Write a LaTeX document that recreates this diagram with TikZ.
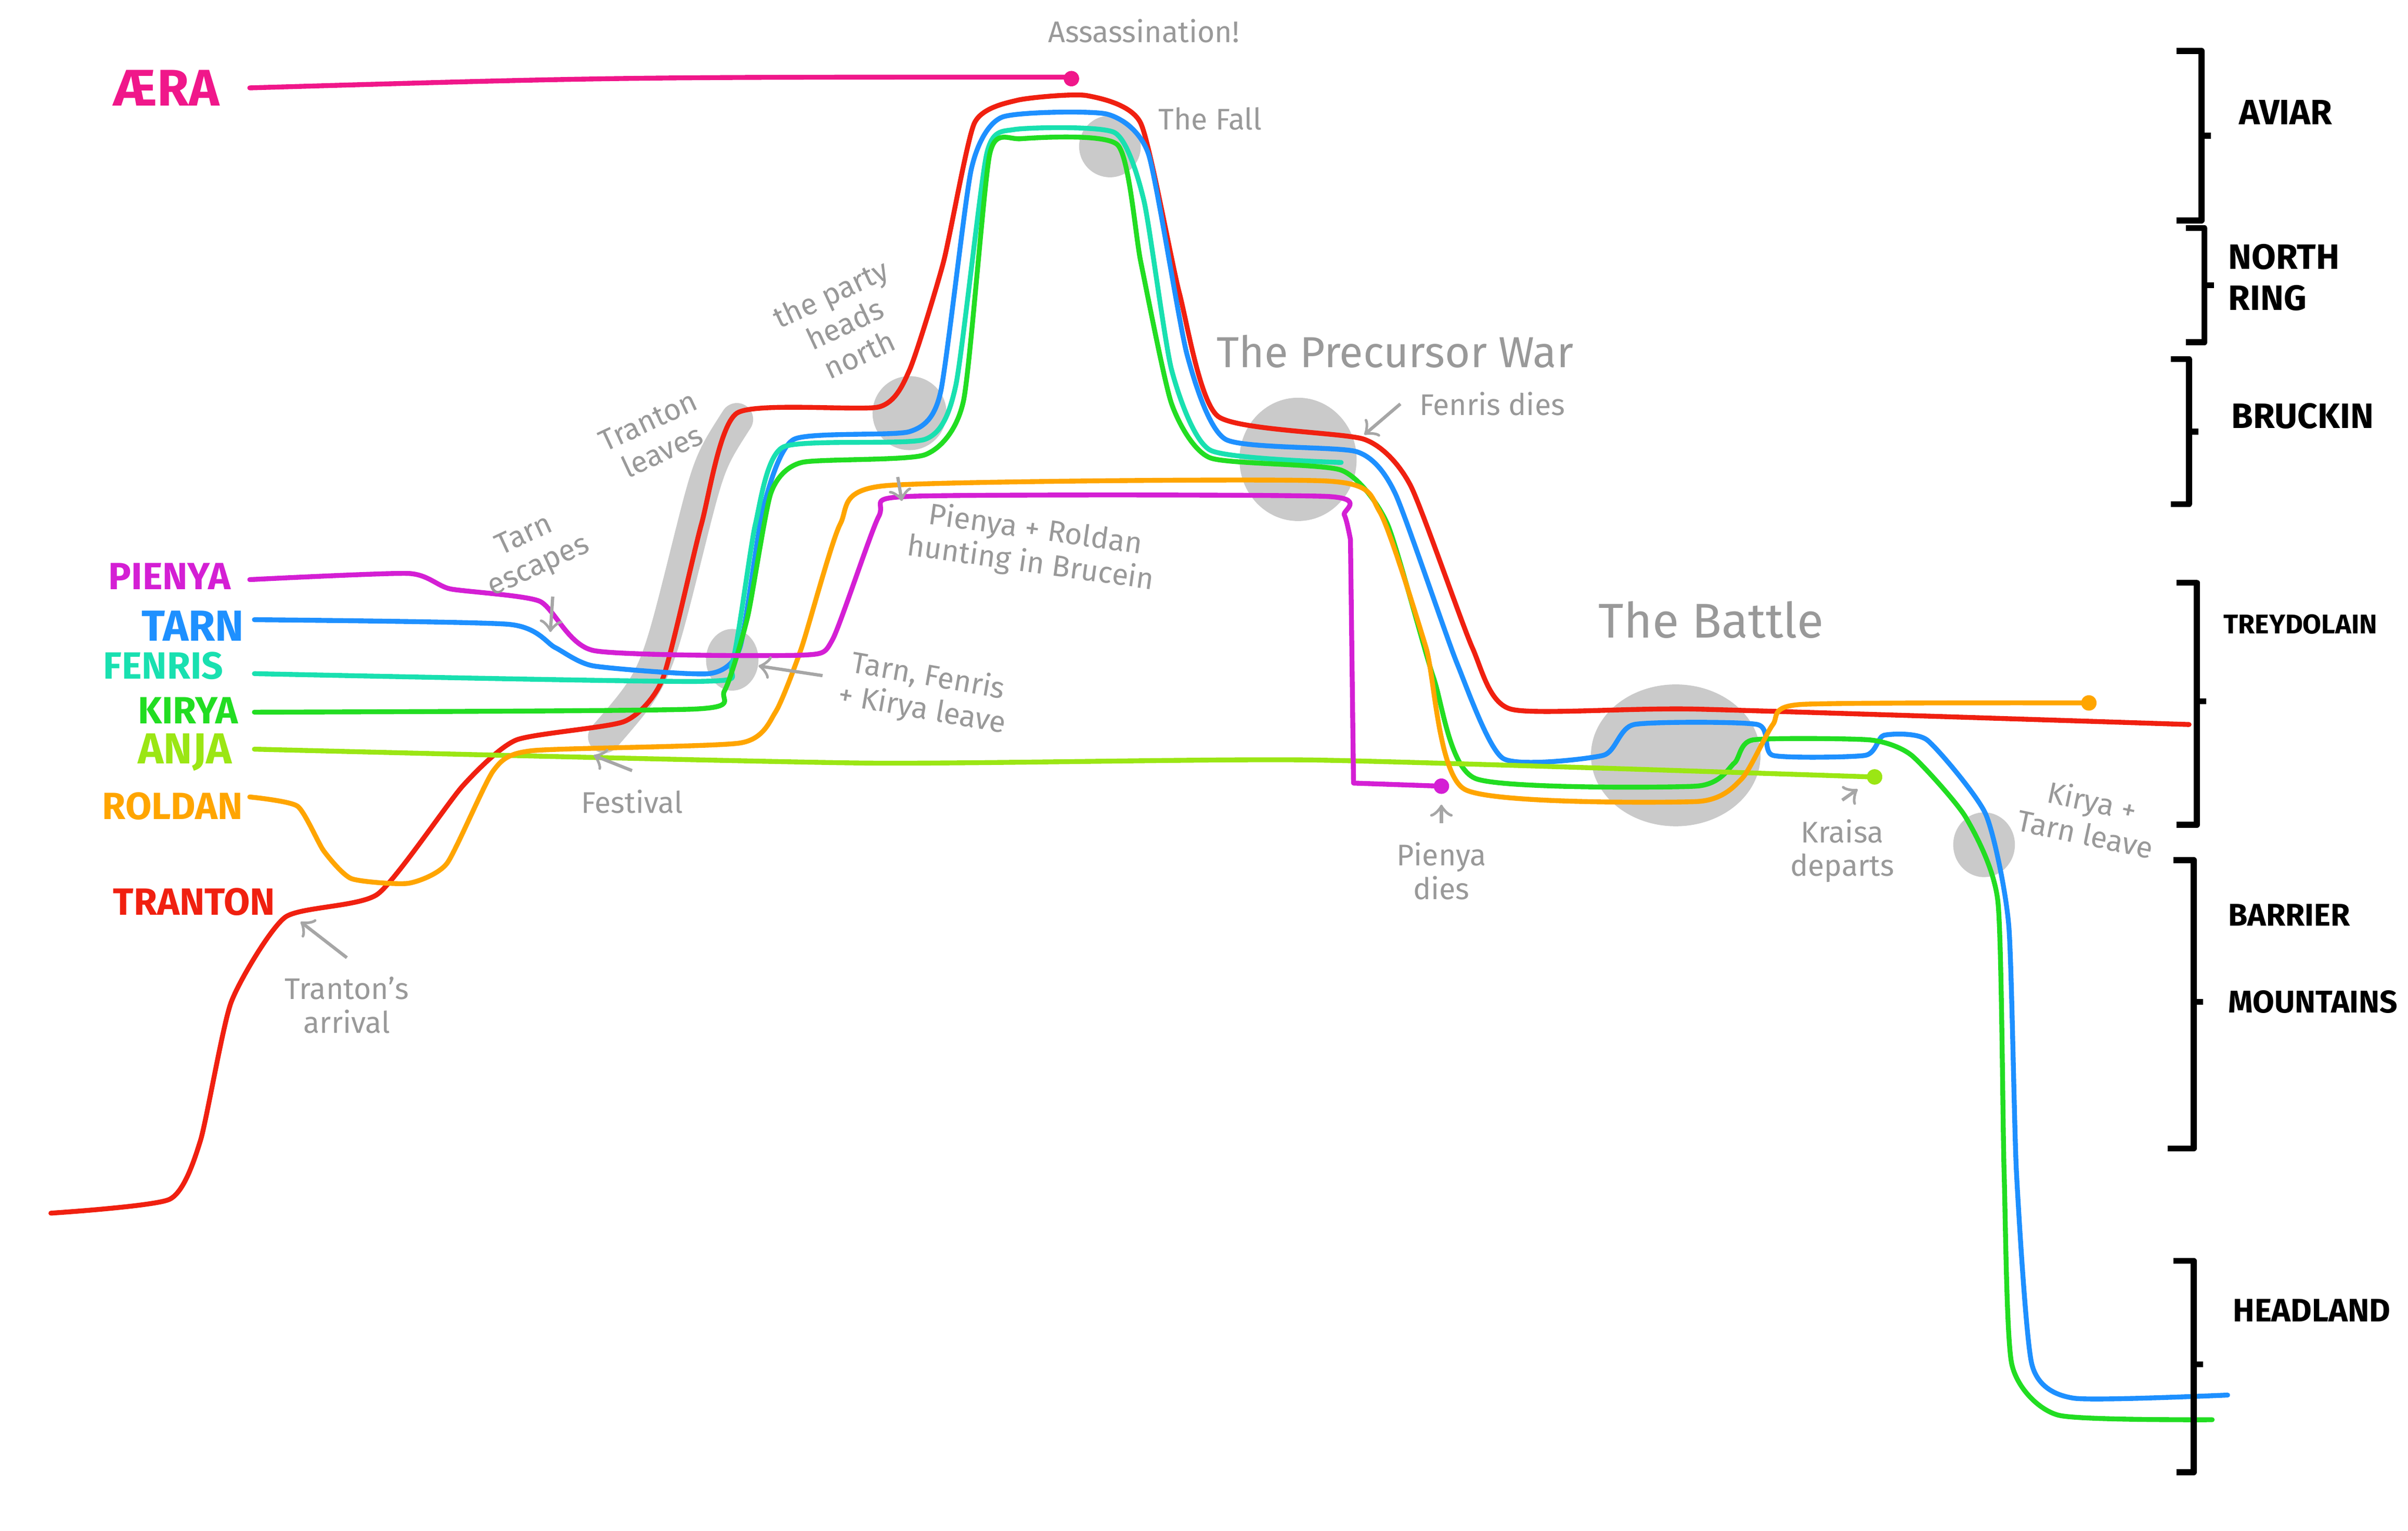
\documentclass[tikz,border=0pt]{standalone}
\usepackage{fontspec}
\setmainfont{Fira Sans}
\definecolor{caera}{HTML}{F0178A}
\definecolor{cpie}{HTML}{D41FD4}
\definecolor{ctarn}{HTML}{1E90FF}
\definecolor{cfen}{HTML}{19E0B0}
\definecolor{ckir}{HTML}{22DD22}
\definecolor{canja}{HTML}{9BE614}
\definecolor{crol}{HTML}{FFA500}
\definecolor{ctran}{HTML}{F02010}
\definecolor{blob}{HTML}{B8B8B8}
\begin{document}
\begin{tikzpicture}[x=0.01cm,y=-0.01cm,
  story/.style={line width=0.9pt,line cap=round,line join=round},
  who/.style={font=\bfseries\fontsize{7}{8}\selectfont,anchor=center},
  note/.style={text=gray!80,font=\fontsize{5.5}{6.2}\selectfont,align=center},
  place/.style={font=\bfseries\fontsize{6.5}{7.5}\selectfont,anchor=west,align=left},
  brk/.style={line width=1.1pt,line join=round},
  gblob/.style={fill=blob,opacity=0.75,draw=none},
  dotm/.style={circle,inner sep=0pt,minimum size=0.1cm}]
\useasboundingbox (0,0) rectangle (1562,993);
% grey blobs
\fill[gblob] (720,95) ellipse (20 and 20);
\fill[gblob] (590,268) ellipse (24 and 24);
\fill[gblob] (842,298) ellipse (38 and 40);
\fill[gblob] (1087,490) ellipse (55 and 46);
\fill[gblob] (1287,548) ellipse (20 and 21);
\fill[gblob] (475,428) ellipse (17 and 20);
\draw[blob,opacity=0.75,line width=6pt,line cap=round] (392,478) .. controls (425,440) .. (445,360) .. controls (460,300) .. (478,272);
% storylines
\draw[story,ctran] plot[smooth,tension=0.35] coordinates {(33,787)(110,778)(130,740)(150,650)(185,595)(245,580)(300,510)(335,480)(405,468)(430,440)(455,340)(478,268)(570,264)(590,240)(612,170)(632,80)(660,65)(705,62)(740,80)(765,190)(790,270)(885,285)(915,315)(955,420)(980,460)(1100,460)(1420,470)};
\draw[story,ctarn] plot[smooth,tension=0.35] coordinates {(165,402)(330,405)(360,420)(385,432)(460,437)(480,420)(495,330)(515,285)(590,280)(610,255)(630,110)(650,76)(718,74)(745,100)(770,230)(795,285)(880,293)(905,320)(945,430)(975,492)(1040,490)(1060,470)(1140,470)(1150,490)(1210,490)(1222,477)(1250,480)(1288,528)(1303,600)(1308,760)(1318,885)(1345,907)(1445,905)};
\draw[story,cfen] plot[smooth,tension=0.35] coordinates {(165,437)(455,442)(475,430)(490,340)(508,290)(600,285)(620,250)(640,100)(658,84)(723,86)(742,130)(760,240)(785,292)(870,300)};
\draw[story,ckir] plot[smooth,tension=0.35] coordinates {(165,462)(450,460)(470,448)(485,400)(500,320)(520,300)(600,295)(625,260)(642,100)(662,90)(725,94)(740,170)(760,262)(785,297)(870,305)(900,340)(930,440)(957,505)(1100,510)(1125,495)(1137,480)(1213,480)(1240,490)(1275,530)(1296,585)(1300,760)(1305,885)(1335,918)(1435,921)};
\draw[story,canja] plot[smooth,tension=0.35] coordinates {(165,486)(560,495)(850,493)(1214,504)};
\draw[story,crol] plot[smooth,tension=0.35] coordinates {(162,517)(193,523)(210,552)(228,570)(265,573)(290,560)(320,500)(345,487)(480,482)(503,462)(520,420)(545,340)(575,315)(860,312)(895,332)(925,420)(950,512)(1100,520)(1130,505)(1150,470)(1168,457)(1355,456)};
\draw[story,cpie] plot[smooth,tension=0.35] coordinates {(162,376)(265,372)(292,382)(350,390)(385,422)(520,425)(540,415)(570,335)(590,322)(860,322)(872,334)(876,350)};
\draw[story,cpie] (876,350) -- (878,508) -- (935,510);
\draw[story,caera] (162,57) .. controls (400,50) .. (695,50);
\node[dotm,fill=caera] (daera) at (695,51) {};
\node[dotm,fill=cpie] (dpie) at (935,510) {};
\node[dotm,fill=canja] (danja) at (1216,504) {};
\node[dotm,fill=crol] (drol) at (1355,456) {};
% character labels
\node[who,text=caera,font=\bfseries\fontsize{9.5}{10}\selectfont] (laera) at (108,57) {ÆRA};
\node[who,text=cpie] (lpie) at (110,374) {PIENYA};
\node[who,text=ctarn,font=\bfseries\fontsize{8}{9}\selectfont] (ltarn) at (125,406) {TARN};
\node[who,text=cfen] (lfen) at (106,432) {FENRIS};
\node[who,text=ckir] (lkir) at (122,461) {KIRYA};
\node[who,text=canja,font=\bfseries\fontsize{8}{9}\selectfont] (lanja) at (120,488) {ANJA};
\node[who,text=crol] (lrol) at (112,523) {ROLDAN};
\node[who,text=ctran] (ltran) at (126,585) {TRANTON};
% annotations
\node[note] (nass) at (742,20) {Assassination!};
\node[note] (nfall) at (785,77) {The Fall};
\node[note,rotate=25] (nparty) at (548,210) {the party\\heads\\north};
\node[note,rotate=25] (ntl) at (425,283) {Tranton\\leaves};
\node[note,font=\fontsize{8}{9}\selectfont] (nwar) at (905,228) {The Precursor War};
\node[note] (nfen) at (968,262) {Fenris dies};
\node[note,rotate=25] (nesc) at (345,358) {Tarn\\escapes};
\node[note,rotate=-10] (ntfk) at (600,450) {Tarn, Fenris\\+ Kirya leave};
\node[note,rotate=-8] (nhunt) at (670,355) {Pienya + Roldan\\hunting in Brucein};
\node[note] (nfest) at (410,520) {Festival};
\node[note] (narr) at (225,652) {Tranton's\\arrival};
\node[note] (npdie) at (935,565) {Pienya\\dies};
\node[note,font=\fontsize{9}{10}\selectfont] (nbat) at (1110,402) {The Battle};
\node[note] (nkra) at (1195,552) {Kraisa\\departs};
\node[note,rotate=-12] (nkt) at (1355,530) {Kirya + \\Tarn leave};
\begin{scope}[gray!70,line width=0.6pt,->]
\draw (nfen.west) -- (885,282);
\draw (nesc.south) -- (357,410);
\draw (ntfk.west) -- (492,432);
\draw (nhunt.north west) -- (585,325);
\draw (nfest.north) -- (385,490);
\draw (narr.north) -- (195,598);
\draw (npdie.north) -- (935,522);
\draw (nkra.north) -- (1205,512);
\end{scope}
% place brackets
\draw[brk] (1412,33)--(1428,33)--(1428,143)--(1412,143);
\draw[brk] (1418,148)--(1430,148)--(1430,222)--(1418,222);
\draw[brk] (1408,233)--(1420,233)--(1420,327)--(1408,327);
\draw[brk] (1412,378)--(1425,378)--(1425,535)--(1412,535);
\draw[brk] (1410,558)--(1423,558)--(1423,745)--(1406,745);
\draw[brk] (1410,818)--(1423,818)--(1423,955)--(1412,955);
\draw[brk] (1428,88)--(1434,88); \draw[brk] (1430,185)--(1436,185); \draw[brk] (1420,280)--(1426,280);
\draw[brk] (1425,455)--(1431,455); \draw[brk] (1423,650)--(1429,650); \draw[brk] (1423,885)--(1429,885);
\node[place] (paviar) at (1440,73) {AVIAR};
\node[place] (pnorth) at (1433,180) {NORTH\\RING};
\node[place] (pbru) at (1435,270) {BRUCKIN};
\node[place,font=\bfseries\fontsize{5}{6}\selectfont] (ptrey) at (1430,405) {TREYDOLAIN};
\node[place,font=\bfseries\fontsize{5.8}{16}\selectfont] (pbar) at (1433,622) {BARRIER\\MOUNTAINS};
\node[place,font=\bfseries\fontsize{6}{7}\selectfont] (phead) at (1436,850) {HEADLAND};
\end{tikzpicture}
\end{document}
